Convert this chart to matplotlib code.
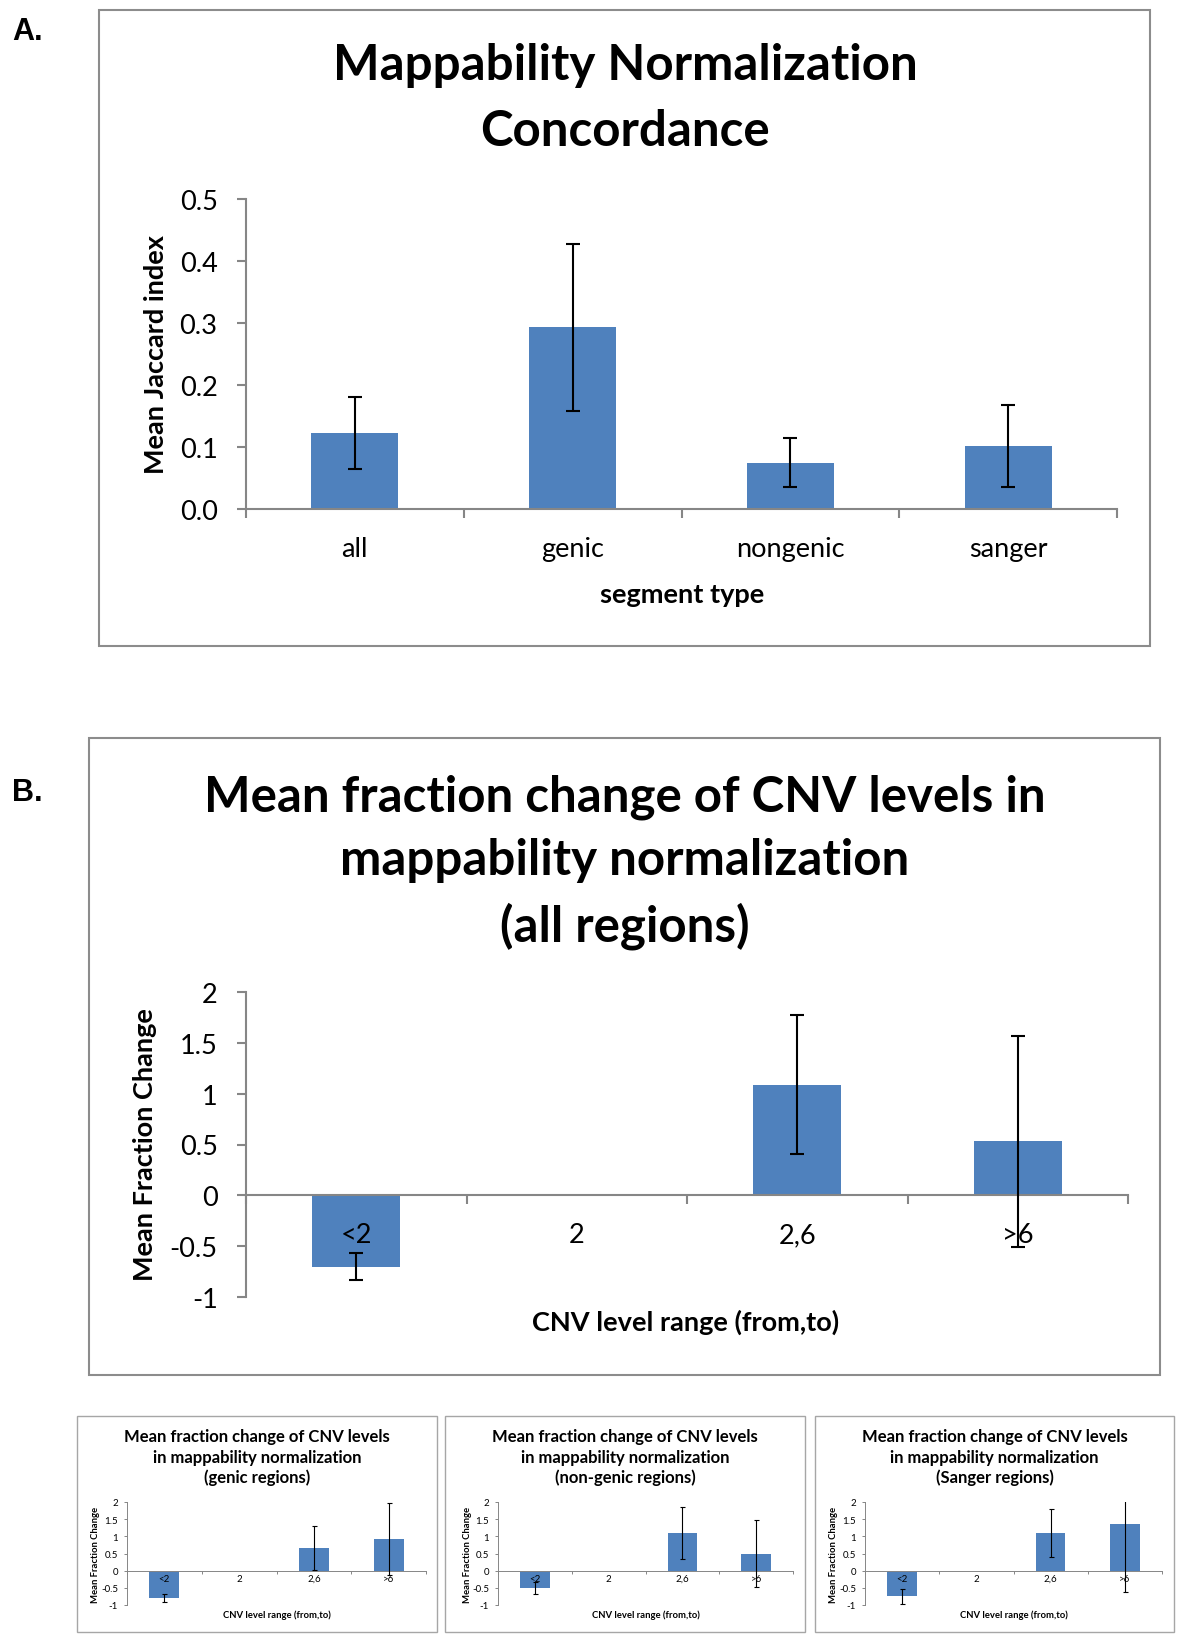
import numpy as np
import matplotlib
matplotlib.use("Agg")
import matplotlib.pyplot as plt
from matplotlib.patches import Rectangle

W, H = 1200, 1649
BLUE = "#4F81BD"
GREY = "#868686"
FRAME = "#8c8c8c"
FONT = "Lato"

# panel A data
seg_types = ["all", "genic", "nongenic", "sanger"]
jaccard = [0.123, 0.293, 0.075, 0.102]
jaccard_err = [0.058, 0.135, 0.040, 0.066]
jaccard_ticks = [0.0, 0.1, 0.2, 0.3, 0.4, 0.5]
jaccard_ticklabels = ["0.0", "0.1", "0.2", "0.3", "0.4", "0.5"]

# panel B data
cnv_ranges = ["<2", "2", "2,6", ">6"]
frac_all = [-0.70, 0.0, 1.09, 0.53]
frac_all_err = [0.13, 0.0, 0.68, 1.04]
frac_genic = [-0.80, 0.0, 0.67, 0.93]
frac_genic_err = [0.12, 0.0, 0.64, 1.05]
frac_nongenic = [-0.50, 0.0, 1.10, 0.50]
frac_nongenic_err = [0.18, 0.0, 0.76, 0.98]
frac_sanger = [-0.75, 0.0, 1.10, 1.37]
frac_sanger_err = [0.22, 0.0, 0.70, 2.00]
frac_ticks = [-1, -0.5, 0, 0.5, 1, 1.5, 2]
frac_ticklabels = ["-1", "-0.5", "0", "0.5", "1", "1.5", "2"]

fig = plt.figure(figsize=(W / 100, H / 100), dpi=100)


def px_axes(l, r, top, bottom):
    return fig.add_axes([l / W, 1 - bottom / H, (r - l) / W, (bottom - top) / H])


def frame(l, r, top, bottom, lw=1.5, color=FRAME):
    fig.patches.append(Rectangle((l / W, 1 - bottom / H), (r - l) / W, (bottom - top) / H,
                                 transform=fig.transFigure, fill=False,
                                 edgecolor=color, linewidth=lw))


def ftext(x, y, s, **kw):
    fig.text(x / W, 1 - y / H, s, ha="center", va="center", family=FONT, **kw)


def bar_panel(ax, cats, vals, errs, ticks, ticklabels, ylim, fs, tick_len,
              capsize, elw, ypad, xpad, spine_w):
    x = np.arange(len(cats))
    ax.set_axisbelow(False)
    ax.bar(x, vals, width=0.4, color=BLUE, linewidth=0, zorder=2)
    errs = np.array(errs)
    keep = errs > 0
    ax.errorbar(x[keep], np.array(vals)[keep], yerr=errs[keep], fmt="none",
                ecolor="black", elinewidth=elw, capsize=capsize, capthick=elw, zorder=3)
    ax.set_xlim(-0.5, len(cats) - 0.5)
    ax.set_ylim(*ylim)
    for s in ["top", "right"]:
        ax.spines[s].set_visible(False)
    for s in ["left", "bottom"]:
        ax.spines[s].set_color(GREY)
        ax.spines[s].set_linewidth(spine_w)
    ax.spines["bottom"].set_position(("data", 0))
    ax.set_yticks(ticks)
    ax.set_yticklabels(ticklabels, family=FONT, fontsize=fs)
    ax.set_xticks(np.arange(len(cats) + 1) - 0.5)
    ax.set_xticklabels([])
    ax.set_xticks(x, minor=True)
    ax.set_xticklabels(cats, minor=True, family=FONT, fontsize=fs)
    ax.tick_params(axis="y", direction="out", length=tick_len, width=spine_w,
                   color=GREY, pad=ypad)
    ax.tick_params(axis="x", which="major", direction="out", length=tick_len,
                   width=spine_w, color=GREY)
    ax.tick_params(axis="x", which="minor", length=0, pad=xpad)
    ax.patch.set_alpha(0)


# ---- panel A ----
frame(99, 1150, 11, 647)
fig.text(12 / W, 1 - 32 / H, "A.", family="Liberation Sans", fontweight="bold",
         fontsize=22, va="center", ha="left")
ftext(625, 66, "Mappability Normalization", fontsize=35.5, fontweight="bold")
ftext(625, 132, "Concordance", fontsize=35.5, fontweight="bold")
axA = px_axes(246, 1117, 200, 510)
bar_panel(axA, seg_types, jaccard, jaccard_err, jaccard_ticks, jaccard_ticklabels,
          (0, 0.5), 19.5, 6.5, 4.8, 1.5, 14, 19.5, 1.5)
ftext(156, 355, "Mean Jaccard index", fontsize=19.5, fontweight="bold", rotation=90)
ftext(682, 595, "segment type", fontsize=19.5, fontweight="bold")

# ---- panel B ----
frame(89, 1160, 739, 1376)
fig.text(12 / W, 1 - 793 / H, "B.", family="Liberation Sans", fontweight="bold",
         fontsize=22, va="center", ha="left")
ftext(625, 797, "Mean fraction change of CNV levels in", fontsize=35.5, fontweight="bold")
ftext(625, 861, "mappability normalization", fontsize=35.5, fontweight="bold")
ftext(625, 926, "(all regions)", fontsize=35.5, fontweight="bold")
axB = px_axes(246, 1128, 993, 1298)
bar_panel(axB, cnv_ranges, frac_all, frac_all_err, frac_ticks, frac_ticklabels,
          (-1, 2), 19.5, 6.5, 5, 1.5, 14, 19.5, 1.5)
ftext(145, 1145, "Mean Fraction Change", fontsize=19.5, fontweight="bold", rotation=90)
ftext(686, 1322, "CNV level range (from,to)", fontsize=19.5, fontweight="bold")

# ---- small panels ----
small = [
    ("(genic regions)", frac_genic, frac_genic_err, 77, 437, 127, 426),
    ("(non-genic regions)", frac_nongenic, frac_nongenic_err, 445, 805, 498, 793),
    ("(Sanger regions)", frac_sanger, frac_sanger_err, 815, 1174, 865, 1162),
]
for sub, vals, errs, fl, fr, al, ar in small:
    frame(fl, fr, 1417, 1633, lw=1.0, color="#a6a6a6")
    cx = (fl + fr) / 2
    ftext(cx, 1437, "Mean fraction change of CNV levels", fontsize=12, fontweight="bold")
    ftext(cx, 1458, "in mappability normalization", fontsize=12, fontweight="bold")
    ftext(cx, 1478, sub, fontsize=12, fontweight="bold")
    ax = px_axes(al, ar, 1503, 1606)
    bar_panel(ax, cnv_ranges, vals, errs, frac_ticks, frac_ticklabels,
              (-1, 2), 7, 2.5, 1.8, 0.8, 4, 2.5, 0.7)
    ftext(al - 31, 1555, "Mean Fraction Change", fontsize=6.8, fontweight="bold", rotation=90)
    ftext((al + ar) / 2, 1615, "CNV level range (from,to)", fontsize=6.8, fontweight="bold")

fig.savefig("out.png", dpi=100)
